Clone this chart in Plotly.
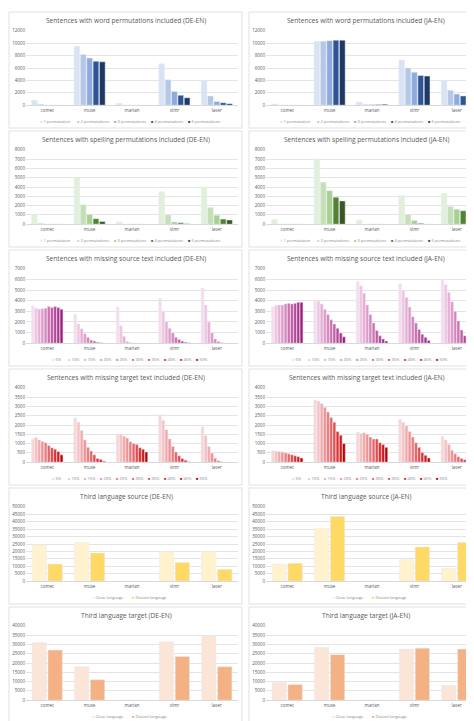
import plotly.graph_objects as go
from plotly.subplots import make_subplots

models = ["comet", "muse", "marian", "xlmr", "laser"]

perm_names = ["1 permutation", "2 permutations", "3 permutations", "4 permutations", "5 permutations"]
pct_names = ["5%", "10%", "15%", "20%", "25%", "30%", "35%", "40%", "45%", "50%"]
lang_names = ["Close language", "Distant language"]

# values per model, one row per model, one column per series
word_de = [[800, 150, 0, 0, 0], [9500, 8200, 7600, 7100, 7000], [300, 0, 0, 0, 0],
           [6700, 4100, 2200, 1600, 1200], [4000, 1500, 600, 400, 250]]
word_ja = [[200, 0, 0, 0, 0], [10300, 10300, 10400, 10500, 10500], [500, 100, 100, 100, 150],
           [7300, 6000, 5300, 4800, 4700], [4000, 2400, 1800, 1500, 1200]]
spell_de = [[1100, 100, 0, 0, 0], [5000, 2100, 1050, 600, 300], [250, 0, 0, 0, 0],
            [3500, 1000, 250, 150, 50], [4000, 1800, 950, 550, 450]]
spell_ja = [[500, 0, 0, 0, 0], [7000, 4500, 3600, 2900, 2500], [450, 0, 0, 0, 0],
            [3100, 1050, 400, 100, 0], [3300, 1900, 1600, 1450, 1200]]
src_de = [[3500, 3300, 3200, 3250, 3300, 3450, 3350, 3450, 3350, 3200],
          [2700, 1800, 1350, 900, 550, 300, 200, 100, 50, 30],
          [3400, 1650, 650, 150, 50, 0, 0, 0, 0, 0],
          [4200, 3000, 2000, 1400, 950, 550, 350, 200, 100, 50],
          [5200, 3600, 2000, 950, 400, 150, 50, 0, 0, 0]]
src_ja = [[3400, 3550, 3600, 3600, 3700, 3750, 3700, 3750, 3850, 3850],
          [4000, 3950, 3700, 3200, 2700, 2200, 1800, 1400, 950, 600],
          [5800, 5400, 4700, 3600, 2700, 1900, 1200, 700, 400, 200],
          [5600, 5000, 4300, 3400, 2500, 1900, 1300, 850, 550, 250],
          [6000, 5500, 4800, 3900, 3000, 2100, 1250, 700, 400, 200]]
tgt_de = [[1250, 1330, 1200, 1120, 1050, 900, 780, 700, 580, 400],
          [2380, 2150, 1700, 1200, 800, 600, 400, 200, 150, 50],
          [1500, 1500, 1400, 1300, 1100, 1000, 950, 780, 700, 550],
          [2550, 2250, 1750, 1250, 850, 550, 350, 200, 100, 30],
          [1900, 1430, 850, 480, 220, 80, 20, 0, 0, 0]]
tgt_ja = [[620, 600, 580, 550, 500, 450, 400, 350, 300, 230],
          [3350, 3280, 3150, 2950, 2700, 2400, 2150, 1650, 1450, 1000],
          [1620, 1550, 1580, 1500, 1350, 1250, 1250, 1050, 950, 800],
          [2300, 2150, 1950, 1650, 1350, 1050, 800, 520, 370, 230],
          [1380, 1200, 950, 650, 450, 300, 200, 130, 60, 20]]
third_src_de = [[24500, 11500], [26000, 19000], [0, 0], [20000, 12500], [20000, 8000]]
third_src_ja = [[11500, 12000], [35500, 43500], [0, 0], [14500, 23000], [8500, 26000]]
third_tgt_de = [[31000, 27000], [18000, 11000], [0, 0], [31500, 23500], [34500, 18000]]
third_tgt_ja = [[9500, 8500], [28500, 24500], [0, 0], [27500, 28000], [8000, 27500]]

blues = ["#dae3f3", "#b4c7e7", "#8faadc", "#2f5597", "#1f3864"]
greens = ["#e2f0d9", "#c5e0b4", "#a9d18e", "#548235", "#385723"]
pinks = ["#f8dced", "#f2c4e0", "#ebaed3", "#e39ac8", "#da85bc", "#d070b0",
         "#c45ca3", "#b84896", "#ac348a", "#a0197e"]
reds = ["#fbd5d5", "#f8c0c0", "#f5a9a9", "#f29292", "#ee7b7b", "#ea6464",
        "#e54b4b", "#df3030", "#d41a1a", "#c00000"]

panels = [
    ("Sentences with word permutations included (DE-EN)", word_de, perm_names, blues, 12000, 2000),
    ("Sentences with word permutations included (JA-EN)", word_ja, perm_names, blues, 12000, 2000),
    ("Sentences with spelling permutations included (DE-EN)", spell_de, perm_names, greens, 8000, 1000),
    ("Sentences with spelling permutations included (JA-EN)", spell_ja, perm_names, greens, 8000, 1000),
    ("Sentences with missing source text included (DE-EN)", src_de, pct_names, pinks, 7000, 1000),
    ("Sentences with missing source text included (JA-EN)", src_ja, pct_names, pinks, 7000, 1000),
    ("Sentences with missing target text included (DE-EN)", tgt_de, pct_names, reds, 4000, 500),
    ("Sentences with missing target text included (JA-EN)", tgt_ja, pct_names, reds, 4000, 500),
    ("Third language source (DE-EN)", third_src_de, lang_names, ["#fff2cc", "#ffd966"], 50000, 5000),
    ("Third language source (JA-EN)", third_src_ja, lang_names, ["#fff2cc", "#ffd966"], 50000, 5000),
    ("Third language target (DE-EN)", third_tgt_de, lang_names, ["#fbe5d6", "#f4b183"], 40000, 5000),
    ("Third language target (JA-EN)", third_tgt_ja, lang_names, ["#fbe5d6", "#f4b183"], 40000, 5000),
]

W, H = 474, 721
fig = make_subplots(rows=6, cols=2)
layout = {}
annotations = []
shapes = []
for i, (title, data, names, colors, ymax, dtick) in enumerate(panels):
    r, c = divmod(i, 2)
    n = i + 1
    top = r * 120
    left = 0 if c == 0 else 240
    # panel frame
    shapes.append(dict(type="rect", xref="paper", yref="paper",
                       x0=(left + 1) / W, x1=(left + 234) / W,
                       y0=1 - (top + 118) / H, y1=1 - (top + 1) / H,
                       line=dict(color="#d9d9d9", width=0.8)))
    annotations.append(dict(text=title, xref="paper", yref="paper",
                            x=(left + 118) / W, y=1 - (top + 10) / H,
                            xanchor="center", yanchor="middle",
                            showarrow=False, font=dict(size=6.6, color="#595959")))
    for j, name in enumerate(names):
        fig.add_trace(go.Bar(x=models, y=[row[j] for row in data], name=name,
                             marker_color=colors[j], showlegend=False),
                      row=r + 1, col=c + 1)
    # legend row drawn as text items under the plot
    step = {5: 37, 10: 16, 2: 40}[len(names)]
    x_start = left + 122 - step * len(names) / 2
    for j, name in enumerate(names):
        annotations.append(dict(
            text=f'<span style="color:{colors[j]}">■</span> {name}',
            xref="paper", yref="paper", x=(x_start + j * step) / W,
            y=1 - (top + 111) / H, xanchor="left", yanchor="middle",
            showarrow=False, font=dict(size=4, color="#7f7f7f")))
    xa = "xaxis" if n == 1 else f"xaxis{n}"
    ya = "yaxis" if n == 1 else f"yaxis{n}"
    layout[xa] = dict(domain=[(left + 18) / W, (left + 230) / W],
                      tickfont=dict(size=4.5, color="#595959"), showline=True,
                      linecolor="#d9d9d9", ticks="")
    layout[ya] = dict(domain=[1 - (top + 95) / H, 1 - (top + 20) / H],
                      range=[0, ymax], dtick=dtick, gridcolor="#e4e4e4",
                      tickformat="d", tickfont=dict(size=4.5, color="#595959"),
                      zeroline=False)

fig.update_layout(**layout)
fig.update_layout(width=W, height=H, margin=dict(l=0, r=0, t=0, b=0),
                  plot_bgcolor="white", paper_bgcolor="white", showlegend=False,
                  font=dict(family="Open Sans"), bargap=0.25, bargroupgap=0.1,
                  annotations=annotations, shapes=shapes)
fig.write_html("out.html")
